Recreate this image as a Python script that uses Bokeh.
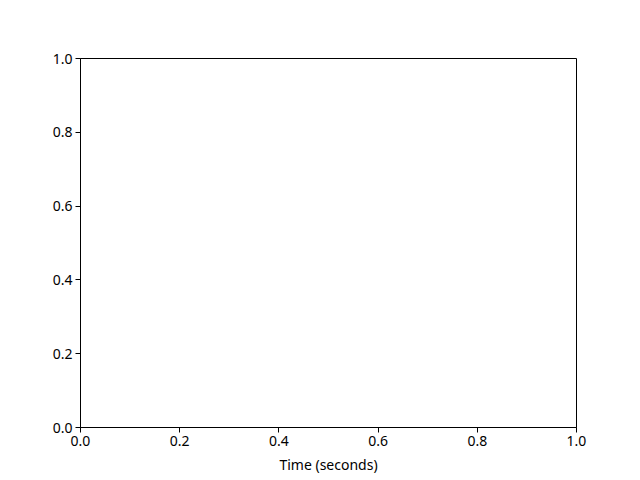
from bokeh.plotting import figure
from bokeh.models import Range1d, FixedTicker, PrintfTickFormatter
from bokeh.embed import file_html
from bokeh.resources import INLINE

x_ticks = [0.0, 0.2, 0.4, 0.6, 0.8, 1.0]
y_ticks = [0.0, 0.2, 0.4, 0.6, 0.8, 1.0]
x_label = "Time (seconds)"

FONT = "Noto Sans"

p = figure(width=640, height=480, output_backend="svg", toolbar_location=None,
           x_range=Range1d(0, 1), y_range=Range1d(0, 1),
           min_border_left=80, min_border_right=64, min_border_top=58, min_border_bottom=53)
p.frame_width = 496
p.frame_height = 369

p.xgrid.visible = False
p.ygrid.visible = False
p.outline_line_color = "black"
p.outline_line_width = 1
p.outline_line_alpha = 1

p.xaxis.axis_label = x_label
for ax, ticks in ((p.xaxis, x_ticks), (p.yaxis, y_ticks)):
    ax.ticker = FixedTicker(ticks=ticks, minor_ticks=[])
    ax.formatter = PrintfTickFormatter(format="%.1f")
    ax.major_tick_out = 5
    ax.major_tick_in = 0
    ax.minor_tick_out = 0
    ax.minor_tick_in = 0
    ax.axis_line_color = "black"
    ax.major_tick_line_color = "black"
    ax.major_label_text_font = FONT
    ax.major_label_text_font_size = "14px"
    ax.major_label_text_color = "black"
    ax.major_label_standoff = 3
    ax.axis_label_text_font = FONT
    ax.axis_label_text_font_size = "14px"
    ax.axis_label_text_font_style = "normal"
    ax.axis_label_text_color = "black"
    ax.axis_label_standoff = 6

p.background_fill_color = "white"
p.border_fill_color = "white"

open("out.html", "w").write(file_html(p, INLINE))
